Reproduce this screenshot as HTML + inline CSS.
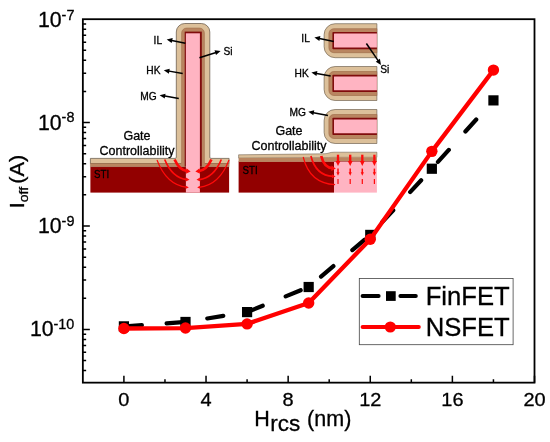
<!DOCTYPE html>
<html><head><meta charset="utf-8"><title>Ioff vs Hrcs</title>
<style>html,body{margin:0;padding:0;background:#fff}svg{display:block}text{font-family:"Liberation Sans",Arial,sans-serif;fill:#000;stroke:#000;stroke-width:0.3px}</style></head><body>
<svg width="550" height="442" viewBox="0 0 550 442">
<rect width="550" height="442" fill="#fff"/>
<g id="inset-finfet">
<rect x="90.4" y="166.6" width="138.7" height="26.0" fill="#920000"/>
<path d="M90.4,158.4 L175.1,158.4 Q176.3,158.4 176.3,157.2 L176.3,32.0 A8.5,8.5 0 0 1 184.8,23.5 L201.3,23.5 A8.5,8.5 0 0 1 209.8,32.0 L209.8,157.2 Q209.8,158.4 211.0,158.4 L229.1,158.4 L229.1,163.5 L90.4,163.5 Z" fill="#dcc09a" stroke="#5e5040" stroke-width="0.7"/>
<path d="M90.4,163.5 L180.4,163.5 Q181.6,163.5 181.6,162.3 L181.6,33.0 A5.0,5.0 0 0 1 186.6,28.0 L199.4,28.0 A5.0,5.0 0 0 1 204.4,33.0 L204.4,162.3 Q204.4,163.5 205.6,163.5 L229.1,163.5 L229.1,166.6 L90.4,166.6 Z" fill="#b98560" stroke="#9a6845" stroke-width="0.5"/>
<rect x="184.7" y="31.6" width="17.1" height="135.0" fill="#800c0c"/>
<rect x="185.9" y="33.3" width="14.0" height="159.3" fill="#ffb4c2"/>
<path d="M174.60,159.50 Q179.40,170.42 187.53,171.20" fill="none" stroke="#ff0a0a" stroke-width="2.7"/><polygon points="190.60,171.50 185.95,173.86 186.49,168.29" fill="#ff0a0a"/>
<path d="M211.40,159.50 Q206.60,170.42 198.47,171.20" fill="none" stroke="#ff0a0a" stroke-width="2.7"/><polygon points="195.40,171.50 199.51,168.29 200.05,173.86" fill="#ff0a0a"/>
<path d="M164.70,159.50 Q172.14,177.97 186.99,179.54" fill="none" stroke="#ff0a0a" stroke-width="1.7"/><polygon points="189.50,179.80 185.71,181.41 186.13,177.43" fill="#ff0a0a"/>
<path d="M221.30,159.50 Q213.86,177.97 199.01,179.54" fill="none" stroke="#ff0a0a" stroke-width="1.7"/><polygon points="196.50,179.80 199.87,177.43 200.29,181.41" fill="#ff0a0a"/>
<path d="M157.00,160.00 Q166.54,185.03 186.85,187.28" fill="none" stroke="#ff0a0a" stroke-width="1.2"/><polygon points="188.80,187.50 185.85,188.68 186.18,185.70" fill="#ff0a0a"/>
<path d="M229.00,160.00 Q219.46,185.03 199.15,187.28" fill="none" stroke="#ff0a0a" stroke-width="1.2"/><polygon points="197.20,187.50 199.82,185.70 200.15,188.68" fill="#ff0a0a"/>
<text x="153.6" y="43.7" font-size="10.2" text-anchor="start" >IL</text>
<line x1="185.40" y1="43.30" x2="170.54" y2="40.20" stroke="#000" stroke-width="1.5"/><polygon points="166.70,39.40 172.69,38.10 171.67,42.99" fill="#000"/>
<text x="146.3" y="74.0" font-size="10.2" text-anchor="start" >HK</text>
<line x1="182.70" y1="73.50" x2="167.66" y2="70.87" stroke="#000" stroke-width="1.5"/><polygon points="163.80,70.20 169.75,68.70 168.89,73.63" fill="#000"/>
<text x="140.2" y="99.6" font-size="10.2" text-anchor="start" >MG</text>
<line x1="178.80" y1="98.50" x2="163.46" y2="95.86" stroke="#000" stroke-width="1.5"/><polygon points="159.60,95.20 165.54,93.68 164.70,98.61" fill="#000"/>
<text x="223.5" y="55.4" font-size="10.2" text-anchor="start" >Si</text>
<line x1="199.40" y1="57.70" x2="216.86" y2="52.18" stroke="#000" stroke-width="1.5"/><polygon points="220.60,51.00 216.01,55.07 214.51,50.30" fill="#000"/>
<text x="137.0" y="139.7" font-size="12.5" text-anchor="middle" fill="#111">Gate</text>
<text x="137.0" y="154.7" font-size="12.5" text-anchor="middle" fill="#111">Controllability</text>
<text transform="translate(94.0,178.2) scale(0.86,1)" font-size="11.3" fill="#1e0000" stroke="#1e0000">STI</text>
</g>
<g id="inset-nsfet">
<rect x="238.6" y="161.4" width="95.4" height="31.2" fill="#920000"/>
<rect x="334.0" y="160" width="42.9" height="32.6" fill="#ffb4c2"/>
<path d="M238.6,154.8 L324,153.8 C329,153.7 329,152.2 334,152.2 L376.9,152.2 L376.9,157.3 L334,157.3 C330,157.3 330,157.6 326,157.6 L238.6,158.1 Z" fill="#dcc09a" stroke="#5e5040" stroke-width="0.5"/>
<path d="M238.6,158.1 L326,157.6 C330,157.6 330,157.3 334,157.3 L376.9,157.3 L376.9,161.3 L334,161.3 L334,161.6 L238.6,162.0 Z" fill="#b98560"/>
<path d="M334,161.5 H376.9" stroke="#b05050" stroke-width="0.8" fill="none"/>
<path d="M376.9,23.7 L335.1,23.7 A11,11 0 0 0 324.1,34.7 L324.1,46.7 A11,11 0 0 0 335.1,57.7 L376.9,57.7 Z" fill="#dcc09a" stroke="#5e5040" stroke-width="0.6"/><path d="M376.9,28.7 L333.9,28.7 A5.0,5.0 0 0 0 328.9,33.7 L328.9,47.7 A5.0,5.0 0 0 0 333.9,52.7 L376.9,52.7 Z" fill="#b98560" stroke="#9a6845" stroke-width="0.6"/><path d="M376.9,32.0 L333.2,32.0 A0.8,0.8 0 0 0 332.4,32.8 L332.4,48.4 A0.8,0.8 0 0 0 333.2,49.2 L376.9,49.2 Z" fill="#800c0c"/><path d="M376.9,33.6 L334.3,33.6 A0.3,0.3 0 0 0 334.0,33.9 L334.0,47.1 A0.3,0.3 0 0 0 334.3,47.4 L376.9,47.4 Z" fill="#ffb4c2"/>
<path d="M376.9,66.5 L335.1,66.5 A11,11 0 0 0 324.1,77.5 L324.1,89.5 A11,11 0 0 0 335.1,100.5 L376.9,100.5 Z" fill="#dcc09a" stroke="#5e5040" stroke-width="0.6"/><path d="M376.9,71.5 L333.9,71.5 A5.0,5.0 0 0 0 328.9,76.5 L328.9,90.5 A5.0,5.0 0 0 0 333.9,95.5 L376.9,95.5 Z" fill="#b98560" stroke="#9a6845" stroke-width="0.6"/><path d="M376.9,74.8 L333.2,74.8 A0.8,0.8 0 0 0 332.4,75.6 L332.4,91.2 A0.8,0.8 0 0 0 333.2,92.0 L376.9,92.0 Z" fill="#800c0c"/><path d="M376.9,76.4 L334.3,76.4 A0.3,0.3 0 0 0 334.0,76.7 L334.0,89.9 A0.3,0.3 0 0 0 334.3,90.2 L376.9,90.2 Z" fill="#ffb4c2"/>
<path d="M376.9,109.5 L335.1,109.5 A11,11 0 0 0 324.1,120.5 L324.1,132.5 A11,11 0 0 0 335.1,143.5 L376.9,143.5 Z" fill="#dcc09a" stroke="#5e5040" stroke-width="0.6"/><path d="M376.9,114.5 L333.9,114.5 A5.0,5.0 0 0 0 328.9,119.5 L328.9,133.5 A5.0,5.0 0 0 0 333.9,138.5 L376.9,138.5 Z" fill="#b98560" stroke="#9a6845" stroke-width="0.6"/><path d="M376.9,117.8 L333.2,117.8 A0.8,0.8 0 0 0 332.4,118.6 L332.4,134.2 A0.8,0.8 0 0 0 333.2,135.0 L376.9,135.0 Z" fill="#800c0c"/><path d="M376.9,119.4 L334.3,119.4 A0.3,0.3 0 0 0 334.0,119.7 L334.0,132.9 A0.3,0.3 0 0 0 334.3,133.2 L376.9,133.2 Z" fill="#ffb4c2"/>
<path d="M321.20,156.00 Q324.12,167.90 332.72,168.27" fill="none" stroke="#ff0a0a" stroke-width="2.7"/><polygon points="335.80,168.40 331.29,171.01 331.52,165.42" fill="#ff0a0a"/>
<path d="M310.90,156.00 Q315.84,175.68 333.08,176.40" fill="none" stroke="#ff0a0a" stroke-width="1.7"/><polygon points="335.60,176.50 331.92,178.35 332.09,174.35" fill="#ff0a0a"/>
<path d="M303.20,157.00 Q309.58,183.50 335.10,184.60" fill="none" stroke="#ff0a0a" stroke-width="1.2"/>
<line x1="338.00" y1="154.70" x2="338.00" y2="162.50" stroke="#ff0a0a" stroke-width="2.3"/><polygon points="338.00,166.00 335.60,161.00 340.40,161.00" fill="#ff0a0a"/>
<line x1="338.00" y1="168.60" x2="338.00" y2="173.28" stroke="#ff0a0a" stroke-width="1.5"/><polygon points="338.00,175.80 336.40,172.20 339.60,172.20" fill="#ff0a0a"/>
<line x1="338.0" y1="179" x2="338.0" y2="184" stroke="#ff0a0a" stroke-width="1.2"/>
<line x1="350.20" y1="154.70" x2="350.20" y2="162.50" stroke="#ff0a0a" stroke-width="2.3"/><polygon points="350.20,166.00 347.80,161.00 352.60,161.00" fill="#ff0a0a"/>
<line x1="350.20" y1="168.60" x2="350.20" y2="173.28" stroke="#ff0a0a" stroke-width="1.5"/><polygon points="350.20,175.80 348.60,172.20 351.80,172.20" fill="#ff0a0a"/>
<line x1="350.2" y1="179" x2="350.2" y2="184" stroke="#ff0a0a" stroke-width="1.2"/>
<line x1="362.30" y1="154.70" x2="362.30" y2="162.50" stroke="#ff0a0a" stroke-width="2.3"/><polygon points="362.30,166.00 359.90,161.00 364.70,161.00" fill="#ff0a0a"/>
<line x1="362.30" y1="168.60" x2="362.30" y2="173.28" stroke="#ff0a0a" stroke-width="1.5"/><polygon points="362.30,175.80 360.70,172.20 363.90,172.20" fill="#ff0a0a"/>
<line x1="362.3" y1="179" x2="362.3" y2="184" stroke="#ff0a0a" stroke-width="1.2"/>
<line x1="374.40" y1="154.70" x2="374.40" y2="162.50" stroke="#ff0a0a" stroke-width="2.3"/><polygon points="374.40,166.00 372.00,161.00 376.80,161.00" fill="#ff0a0a"/>
<line x1="374.40" y1="168.60" x2="374.40" y2="173.28" stroke="#ff0a0a" stroke-width="1.5"/><polygon points="374.40,175.80 372.80,172.20 376.00,172.20" fill="#ff0a0a"/>
<line x1="374.4" y1="179" x2="374.4" y2="184" stroke="#ff0a0a" stroke-width="1.2"/>
<text x="301.3" y="41.6" font-size="10.2" text-anchor="start" >IL</text>
<line x1="333.80" y1="41.40" x2="318.24" y2="38.19" stroke="#000" stroke-width="1.5"/><polygon points="314.40,37.40 320.39,36.08 319.38,40.98" fill="#000"/>
<text x="294.6" y="76.7" font-size="10.2" text-anchor="start" >HK</text>
<line x1="330.70" y1="76.00" x2="315.26" y2="73.28" stroke="#000" stroke-width="1.5"/><polygon points="311.40,72.60 317.35,71.11 316.48,76.03" fill="#000"/>
<text x="289.6" y="115.8" font-size="10.2" text-anchor="start" >MG</text>
<line x1="328.00" y1="115.40" x2="312.16" y2="112.50" stroke="#000" stroke-width="1.5"/><polygon points="308.30,111.80 314.26,110.35 313.36,115.27" fill="#000"/>
<text x="380.3" y="73.0" font-size="10.2" text-anchor="start" >Si</text>
<line x1="366.40" y1="43.50" x2="378.79" y2="61.66" stroke="#000" stroke-width="1.5"/><polygon points="381.00,64.90 375.78,61.68 379.91,58.87" fill="#000"/>
<text x="289.0" y="135.0" font-size="12.5" text-anchor="middle" fill="#111">Gate</text>
<text x="289.0" y="150.0" font-size="12.5" text-anchor="middle" fill="#111">Controllability</text>
<text transform="translate(242.6,174.4) scale(0.86,1)" font-size="11.3" fill="#1e0000" stroke="#1e0000">STI</text>
</g>
<polyline points="123.91,326.36 185.50,321.97 247.09,312.10 308.67,287.01 370.26,234.91 431.85,168.73 493.44,100.39" fill="none" stroke="#000" stroke-width="4.2" stroke-dasharray="16.2 24.8" stroke-dashoffset="-1.8" stroke-linecap="round" stroke-linejoin="round"/>
<rect x="118.81" y="321.26" width="10.2" height="10.2" fill="#000"/>
<rect x="180.40" y="316.87" width="10.2" height="10.2" fill="#000"/>
<rect x="241.99" y="307.00" width="10.2" height="10.2" fill="#000"/>
<rect x="303.57" y="281.91" width="10.2" height="10.2" fill="#000"/>
<rect x="365.16" y="229.81" width="10.2" height="10.2" fill="#000"/>
<rect x="426.75" y="163.63" width="10.2" height="10.2" fill="#000"/>
<rect x="488.34" y="95.29" width="10.2" height="10.2" fill="#000"/>
<polyline points="123.91,328.51 185.50,328.07 247.09,323.91 308.67,303.00 370.26,239.22 431.85,151.36 493.44,70.09" fill="none" stroke="#ff0000" stroke-width="4.3" stroke-linejoin="round"/>
<circle cx="123.91" cy="328.51" r="5.7" fill="#ff0000"/>
<circle cx="185.50" cy="328.07" r="5.7" fill="#ff0000"/>
<circle cx="247.09" cy="323.91" r="5.7" fill="#ff0000"/>
<circle cx="308.67" cy="303.00" r="5.7" fill="#ff0000"/>
<circle cx="370.26" cy="239.22" r="5.7" fill="#ff0000"/>
<circle cx="431.85" cy="151.36" r="5.7" fill="#ff0000"/>
<circle cx="493.44" cy="70.09" r="5.7" fill="#ff0000"/>
<rect x="82.85" y="19.2" width="451.65" height="363.45" fill="none" stroke="#000" stroke-width="1.8"/>
<path d="M123.91,382.65 v-7 M164.97,382.65 v-3.4 M206.03,382.65 v-7 M247.09,382.65 v-3.4 M288.15,382.65 v-7 M329.20,382.65 v-3.4 M370.26,382.65 v-7 M411.32,382.65 v-3.4 M452.38,382.65 v-7 M493.44,382.65 v-3.4 M534.50,382.65 v-7 M82.85,329.40 h7 M82.85,298.27 h3.3 M82.85,280.07 h3.3 M82.85,267.15 h3.3 M82.85,257.13 h3.3 M82.85,248.94 h3.3 M82.85,242.02 h3.3 M82.85,236.02 h3.3 M82.85,230.73 h3.3 M82.85,226.00 h7 M82.85,194.87 h3.3 M82.85,176.67 h3.3 M82.85,163.75 h3.3 M82.85,153.73 h3.3 M82.85,145.54 h3.3 M82.85,138.62 h3.3 M82.85,132.62 h3.3 M82.85,127.33 h3.3 M82.85,122.60 h7 M82.85,91.47 h3.3 M82.85,73.27 h3.3 M82.85,60.35 h3.3 M82.85,50.33 h3.3 M82.85,42.14 h3.3 M82.85,35.22 h3.3 M82.85,29.22 h3.3 M82.85,23.93 h3.3 M82.85,370.55 h3.3 M82.85,360.53 h3.3 M82.85,352.34 h3.3 M82.85,345.42 h3.3 M82.85,339.42 h3.3 M82.85,334.13 h3.3" stroke="#000" stroke-width="1.5" fill="none"/>
<text transform="translate(123.91,406) scale(1.05,1)" font-size="19" text-anchor="middle">0</text>
<text transform="translate(206.03,406) scale(1.05,1)" font-size="19" text-anchor="middle">4</text>
<text transform="translate(288.15,406) scale(1.05,1)" font-size="19" text-anchor="middle">8</text>
<text transform="translate(370.26,406) scale(1.05,1)" font-size="19" text-anchor="middle">12</text>
<text transform="translate(452.38,406) scale(1.05,1)" font-size="19" text-anchor="middle">16</text>
<text transform="translate(534.50,406) scale(1.05,1)" font-size="19" text-anchor="middle">20</text>
<text x="74.4" y="336.40" font-size="21.3" text-anchor="end">10<tspan font-size="14.4" dy="-7.3" dx="0">-10</tspan></text>
<text x="74.4" y="233.00" font-size="21.3" text-anchor="end">10<tspan font-size="14.4" dy="-7.3" dx="0">-9</tspan></text>
<text x="74.4" y="129.60" font-size="21.3" text-anchor="end">10<tspan font-size="14.4" dy="-7.3" dx="0">-8</tspan></text>
<text x="74.4" y="27.20" font-size="21.3" text-anchor="end">10<tspan font-size="14.4" dy="-7.3" dx="0">-7</tspan></text>
<text x="254.3" y="426" font-size="21.5">H<tspan font-size="22.5" dy="5.4" dx="0.5">rcs</tspan><tspan dy="-5.4" dx="0.8"> (nm)</tspan></text>
<text transform="translate(23.6,208.3) rotate(-90) scale(1.12,1)" font-size="19.4">I<tspan font-size="12.5" dy="4.3">off</tspan><tspan dy="-4.3" dx="-2.4"> (A)</tspan></text>
<rect x="359.3" y="278.5" width="153.8" height="66.2" fill="#fff" stroke="#444" stroke-width="0.8"/>
<path d="M362.6,296.1 H378.6 M400.4,296.1 H415.8" stroke="#000" stroke-width="4" stroke-linecap="round" fill="none"/>
<rect x="386.0" y="291.2" width="9.7" height="9.7" fill="#000"/>
<path d="M362.6,327 H418.8" stroke="#ff0000" stroke-width="4" stroke-linecap="round" fill="none"/>
<circle cx="390.3" cy="327" r="5.6" fill="#ff0000"/>
<text x="425.7" y="304.6" font-size="25.2" text-anchor="start" textLength="84" lengthAdjust="spacingAndGlyphs">FinFET</text>
<text x="425.7" y="335.5" font-size="25.2" text-anchor="start" textLength="84" lengthAdjust="spacingAndGlyphs">NSFET</text>
</svg></body></html>
